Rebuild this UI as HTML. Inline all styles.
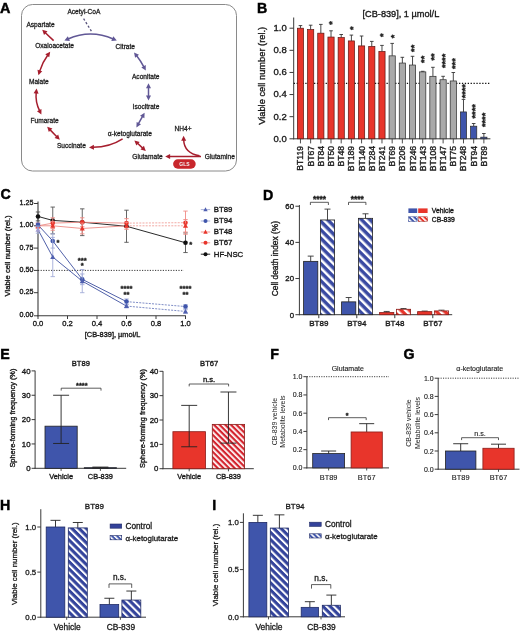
<!DOCTYPE html>
<html><head><meta charset="utf-8"><title>Figure</title>
<style>html,body{margin:0;padding:0;background:#fff;} svg{display:block;} text{font-family:'Liberation Sans', Arial, Helvetica, sans-serif;}</style>
</head><body>
<svg width="520" height="632" viewBox="0 0 520 632">
<rect width="520" height="632" fill="#fff"/>
<defs>
<pattern id="sb" patternUnits="userSpaceOnUse" width="6.0" height="6.0" patternTransform="rotate(-45)"><rect width="6.0" height="6.0" fill="#3a4aa2"/><rect width="2.5" height="6.0" fill="#fff"/></pattern>
<pattern id="sr" patternUnits="userSpaceOnUse" width="6.0" height="6.0" patternTransform="rotate(-45)"><rect width="6.0" height="6.0" fill="#e8352b"/><rect width="2.5" height="6.0" fill="#fff"/></pattern>
<pattern id="sbh" patternUnits="userSpaceOnUse" width="5.1" height="5.1" patternTransform="rotate(-45)"><rect width="5.1" height="5.1" fill="#34449c"/><rect width="2.0" height="5.1" fill="#fff"/></pattern>
<pattern id="sre" patternUnits="userSpaceOnUse" width="4.0" height="4.0" patternTransform="rotate(-45)"><rect width="4.0" height="4.0" fill="#d4242e"/><rect width="1.75" height="4.0" fill="#fff"/></pattern>
<pattern id="sbs" patternUnits="userSpaceOnUse" width="3.6" height="3.6" patternTransform="rotate(-45)"><rect width="3.6" height="3.6" fill="#3f55ab"/><rect width="1.6" height="3.6" fill="#fff"/></pattern>
<pattern id="srs" patternUnits="userSpaceOnUse" width="3.6" height="3.6" patternTransform="rotate(-45)"><rect width="3.6" height="3.6" fill="#e8352b"/><rect width="1.6" height="3.6" fill="#fff"/></pattern>
</defs>
<text x="0.10" y="12.60" font-size="14.4" text-anchor="start" font-weight="bold" fill="#000" stroke="#000" stroke-width="0.45">A</text>
<rect x="21.5" y="4.5" width="215" height="166.5" rx="11" ry="11" fill="#fff" stroke="#8a8a8a" stroke-width="1"/>
<text x="83.90" y="14.38" font-size="6.6" text-anchor="middle" font-weight="normal" fill="#1c1c1c" stroke="#1c1c1c" stroke-width="0.28">Acetyl-CoA</text>
<text x="40.50" y="26.98" font-size="6.6" text-anchor="middle" font-weight="normal" fill="#1c1c1c" stroke="#1c1c1c" stroke-width="0.28">Aspartate</text>
<text x="54.60" y="47.98" font-size="6.6" text-anchor="middle" font-weight="normal" fill="#1c1c1c" stroke="#1c1c1c" stroke-width="0.28">Oxaloacetate</text>
<text x="125.30" y="48.98" font-size="6.6" text-anchor="middle" font-weight="normal" fill="#1c1c1c" stroke="#1c1c1c" stroke-width="0.28">Citrate</text>
<text x="145.70" y="79.28" font-size="6.6" text-anchor="middle" font-weight="normal" fill="#1c1c1c" stroke="#1c1c1c" stroke-width="0.28">Aconitate</text>
<text x="146.00" y="109.38" font-size="6.6" text-anchor="middle" font-weight="normal" fill="#1c1c1c" stroke="#1c1c1c" stroke-width="0.28">Isocitrate</text>
<text x="129.80" y="135.88" font-size="6.6" text-anchor="middle" font-weight="normal" fill="#1c1c1c" stroke="#1c1c1c" stroke-width="0.28">α-ketoglutarate</text>
<text x="38.80" y="83.88" font-size="6.6" text-anchor="middle" font-weight="normal" fill="#1c1c1c" stroke="#1c1c1c" stroke-width="0.28">Malate</text>
<text x="44.60" y="123.48" font-size="6.6" text-anchor="middle" font-weight="normal" fill="#1c1c1c" stroke="#1c1c1c" stroke-width="0.28">Fumarate</text>
<text x="71.40" y="147.78" font-size="6.6" text-anchor="middle" font-weight="normal" fill="#1c1c1c" stroke="#1c1c1c" stroke-width="0.28">Succinate</text>
<text x="147.50" y="158.68" font-size="6.6" text-anchor="middle" font-weight="normal" fill="#1c1c1c" stroke="#1c1c1c" stroke-width="0.28">Glutamate</text>
<text x="219.80" y="158.88" font-size="6.6" text-anchor="middle" font-weight="normal" fill="#1c1c1c" stroke="#1c1c1c" stroke-width="0.28">Glutamine</text>
<text x="183.10" y="131.38" font-size="6.6" text-anchor="middle" font-weight="normal" fill="#1c1c1c" stroke="#1c1c1c" stroke-width="0.28">NH4+</text>
<line x1="83.6" y1="18.6" x2="92.4" y2="32.8" stroke="#55507a" stroke-width="1.3" stroke-dasharray="2.2,2.0"/>
<polygon points="116.80,40.60 111.31,40.94 113.30,36.35" fill="#615896"/>
<polygon points="64.40,40.60 67.90,36.35 69.89,40.94" fill="#615896"/>
<path d="M67.99,39.04 Q90.60,29.20 113.21,39.04" fill="none" stroke="#615896" stroke-width="1.5"/>
<polygon points="145.80,70.60 141.32,67.41 145.76,65.10" fill="#615896"/>
<polygon points="134.00,52.40 139.02,54.65 135.12,57.78" fill="#615896"/>
<path d="M136.46,55.45 Q140.60,60.60 143.99,67.12" fill="none" stroke="#615896" stroke-width="1.5"/>
<polygon points="148.50,100.40 146.00,95.50 151.00,95.50" fill="#615896"/>
<polygon points="148.50,83.30 151.00,88.20 146.00,88.20" fill="#615896"/>
<line x1="148.50" y1="87.22" x2="148.50" y2="96.48" stroke="#615896" stroke-width="1.5"/>
<polygon points="136.40,127.40 136.62,121.90 140.98,124.35" fill="#615896"/>
<polygon points="144.60,112.80 144.38,118.30 140.02,115.85" fill="#615896"/>
<line x1="142.68" y1="116.22" x2="138.32" y2="123.98" stroke="#615896" stroke-width="1.5"/>
<polygon points="42.20,29.80 47.48,31.36 44.04,34.98" fill="#a61e2e"/>
<line x1="53.60" y1="40.60" x2="45.05" y2="32.50" stroke="#a61e2e" stroke-width="1.5"/>
<polygon points="38.40,75.20 37.47,69.78 42.24,71.26" fill="#a61e2e"/>
<polygon points="50.20,51.80 49.24,57.22 45.25,54.20" fill="#a61e2e"/>
<path d="M47.84,54.93 Q42.50,62.00 39.56,71.46" fill="none" stroke="#a61e2e" stroke-width="1.5"/>
<polygon points="41.40,114.40 36.97,111.14 41.44,108.90" fill="#a61e2e"/>
<polygon points="36.60,88.60 38.58,93.73 33.60,93.21" fill="#a61e2e"/>
<path d="M36.19,92.50 Q35.20,102.00 39.65,110.89" fill="none" stroke="#a61e2e" stroke-width="1.5"/>
<polygon points="59.80,139.80 54.59,138.02 58.18,134.54" fill="#a61e2e"/>
<polygon points="47.20,126.80 52.41,128.58 48.82,132.06" fill="#a61e2e"/>
<line x1="49.93" y1="129.61" x2="57.07" y2="136.99" stroke="#a61e2e" stroke-width="1.5"/>
<polygon points="89.00,147.40 93.85,144.81 93.95,149.81" fill="#a61e2e"/>
<path d="M122.60,138.80 Q110.00,147.00 92.92,147.33" fill="none" stroke="#a61e2e" stroke-width="1.5"/>
<polygon points="145.80,151.00 140.51,149.49 143.91,145.83" fill="#a61e2e"/>
<polygon points="134.40,140.40 139.69,141.91 136.29,145.57" fill="#a61e2e"/>
<line x1="137.27" y1="143.07" x2="142.93" y2="148.33" stroke="#a61e2e" stroke-width="1.5"/>
<polygon points="165.20,156.50 170.10,154.00 170.10,159.00" fill="#a61e2e"/>
<line x1="201.00" y1="156.50" x2="169.12" y2="156.50" stroke="#a61e2e" stroke-width="1.5"/>
<polygon points="183.60,135.80 186.21,140.64 181.21,140.76" fill="#a61e2e"/>
<path d="M199.60,155.80 Q184.00,153.00 183.69,139.72" fill="none" stroke="#a61e2e" stroke-width="1.5"/>
<rect x="173.1" y="159.3" width="22.6" height="9.4" rx="4.7" fill="#c8262c"/>
<text x="184.40" y="166.00" font-size="5.0" text-anchor="middle" font-weight="bold" fill="#f4f4f4">GLS</text>
<text x="257.00" y="12.70" font-size="14.2" text-anchor="start" font-weight="bold" fill="#000" stroke="#000" stroke-width="0.45">B</text>
<text x="400.90" y="16.91" font-size="9.2" text-anchor="middle" font-weight="normal" fill="#1a1a1a" stroke="#1a1a1a" stroke-width="0.35">[CB-839], 1 µmol/L</text>
<line x1="293.70" y1="17.50" x2="293.70" y2="139.30" stroke="#3a3a3a" stroke-width="1"/>
<line x1="293.20" y1="138.80" x2="490.40" y2="138.80" stroke="#3a3a3a" stroke-width="1"/>
<line x1="289.50" y1="138.80" x2="293.70" y2="138.80" stroke="#3a3a3a" stroke-width="1"/>
<text x="286.70" y="141.70" font-size="9.5" text-anchor="end" font-weight="normal" fill="#1a1a1a" stroke="#1a1a1a" stroke-width="0.35">0.0</text>
<line x1="289.50" y1="116.68" x2="293.70" y2="116.68" stroke="#3a3a3a" stroke-width="1"/>
<text x="286.70" y="119.58" font-size="9.5" text-anchor="end" font-weight="normal" fill="#1a1a1a" stroke="#1a1a1a" stroke-width="0.35">0.2</text>
<line x1="289.50" y1="94.56" x2="293.70" y2="94.56" stroke="#3a3a3a" stroke-width="1"/>
<text x="286.70" y="97.46" font-size="9.5" text-anchor="end" font-weight="normal" fill="#1a1a1a" stroke="#1a1a1a" stroke-width="0.35">0.4</text>
<line x1="289.50" y1="72.44" x2="293.70" y2="72.44" stroke="#3a3a3a" stroke-width="1"/>
<text x="286.70" y="75.34" font-size="9.5" text-anchor="end" font-weight="normal" fill="#1a1a1a" stroke="#1a1a1a" stroke-width="0.35">0.6</text>
<line x1="289.50" y1="50.32" x2="293.70" y2="50.32" stroke="#3a3a3a" stroke-width="1"/>
<text x="286.70" y="53.22" font-size="9.5" text-anchor="end" font-weight="normal" fill="#1a1a1a" stroke="#1a1a1a" stroke-width="0.35">0.8</text>
<line x1="289.50" y1="28.20" x2="293.70" y2="28.20" stroke="#3a3a3a" stroke-width="1"/>
<text x="286.70" y="31.10" font-size="9.5" text-anchor="end" font-weight="normal" fill="#1a1a1a" stroke="#1a1a1a" stroke-width="0.35">1.0</text>
<text x="264.60" y="75.80" font-size="9.3" text-anchor="middle" font-weight="normal" fill="#1a1a1a" stroke="#1a1a1a" stroke-width="0.35" transform="rotate(-90 264.60 75.80)">Viable cell number (rel.)</text>
<line x1="293.7" y1="83.4" x2="489.6" y2="83.4" stroke="#111" stroke-width="1.1" stroke-dasharray="1.3,1.6"/>
<line x1="300.45" y1="25.60" x2="300.45" y2="28.20" stroke="#333" stroke-width="0.9"/>
<line x1="298.65" y1="25.60" x2="302.25" y2="25.60" stroke="#333" stroke-width="0.9"/>
<rect x="297.35" y="28.20" width="6.20" height="110.60" fill="#e8352b" stroke="#5a1510" stroke-width="0.7"/>
<line x1="300.45" y1="138.80" x2="300.45" y2="143.40" stroke="#3a3a3a" stroke-width="0.9"/>
<text x="303.45" y="146.00" font-size="8.6" text-anchor="end" font-weight="normal" fill="#1a1a1a" stroke="#1a1a1a" stroke-width="0.35" transform="rotate(-90 303.45 146.00)">BT119</text>
<line x1="310.64" y1="25.20" x2="310.64" y2="29.64" stroke="#333" stroke-width="0.9"/>
<line x1="308.84" y1="25.20" x2="312.44" y2="25.20" stroke="#333" stroke-width="0.9"/>
<rect x="307.54" y="29.64" width="6.20" height="109.16" fill="#e8352b" stroke="#5a1510" stroke-width="0.7"/>
<line x1="310.64" y1="138.80" x2="310.64" y2="143.40" stroke="#3a3a3a" stroke-width="0.9"/>
<text x="313.64" y="146.00" font-size="8.6" text-anchor="end" font-weight="normal" fill="#1a1a1a" stroke="#1a1a1a" stroke-width="0.35" transform="rotate(-90 313.64 146.00)">BT67</text>
<line x1="320.83" y1="24.40" x2="320.83" y2="33.18" stroke="#333" stroke-width="0.9"/>
<line x1="319.03" y1="24.40" x2="322.63" y2="24.40" stroke="#333" stroke-width="0.9"/>
<rect x="317.73" y="33.18" width="6.20" height="105.62" fill="#e8352b" stroke="#5a1510" stroke-width="0.7"/>
<line x1="320.83" y1="138.80" x2="320.83" y2="143.40" stroke="#3a3a3a" stroke-width="0.9"/>
<text x="323.83" y="146.00" font-size="8.6" text-anchor="end" font-weight="normal" fill="#1a1a1a" stroke="#1a1a1a" stroke-width="0.35" transform="rotate(-90 323.83 146.00)">BT84</text>
<line x1="331.02" y1="30.80" x2="331.02" y2="37.05" stroke="#333" stroke-width="0.9"/>
<line x1="329.22" y1="30.80" x2="332.82" y2="30.80" stroke="#333" stroke-width="0.9"/>
<rect x="327.92" y="37.05" width="6.20" height="101.75" fill="#e8352b" stroke="#5a1510" stroke-width="0.7"/>
<line x1="331.02" y1="138.80" x2="331.02" y2="143.40" stroke="#3a3a3a" stroke-width="0.9"/>
<text x="334.02" y="146.00" font-size="8.6" text-anchor="end" font-weight="normal" fill="#1a1a1a" stroke="#1a1a1a" stroke-width="0.35" transform="rotate(-90 334.02 146.00)">BT50</text>
<text x="335.44" y="21.15" font-size="9.2" text-anchor="end" font-weight="bold" fill="#1a1a1a" stroke="#1a1a1a" stroke-width="0.35" transform="rotate(-90 335.44 21.15)">*</text>
<line x1="341.21" y1="34.50" x2="341.21" y2="37.60" stroke="#333" stroke-width="0.9"/>
<line x1="339.41" y1="34.50" x2="343.01" y2="34.50" stroke="#333" stroke-width="0.9"/>
<rect x="338.11" y="37.60" width="6.20" height="101.20" fill="#e8352b" stroke="#5a1510" stroke-width="0.7"/>
<line x1="341.21" y1="138.80" x2="341.21" y2="143.40" stroke="#3a3a3a" stroke-width="0.9"/>
<text x="344.21" y="146.00" font-size="8.6" text-anchor="end" font-weight="normal" fill="#1a1a1a" stroke="#1a1a1a" stroke-width="0.35" transform="rotate(-90 344.21 146.00)">BT48</text>
<line x1="351.40" y1="35.10" x2="351.40" y2="40.92" stroke="#333" stroke-width="0.9"/>
<line x1="349.60" y1="35.10" x2="353.20" y2="35.10" stroke="#333" stroke-width="0.9"/>
<rect x="348.30" y="40.92" width="6.20" height="97.88" fill="#e8352b" stroke="#5a1510" stroke-width="0.7"/>
<line x1="351.40" y1="138.80" x2="351.40" y2="143.40" stroke="#3a3a3a" stroke-width="0.9"/>
<text x="354.40" y="146.00" font-size="8.6" text-anchor="end" font-weight="normal" fill="#1a1a1a" stroke="#1a1a1a" stroke-width="0.35" transform="rotate(-90 354.40 146.00)">BT189</text>
<text x="355.82" y="26.35" font-size="9.2" text-anchor="end" font-weight="bold" fill="#1a1a1a" stroke="#1a1a1a" stroke-width="0.35" transform="rotate(-90 355.82 26.35)">*</text>
<line x1="361.59" y1="36.00" x2="361.59" y2="45.90" stroke="#333" stroke-width="0.9"/>
<line x1="359.79" y1="36.00" x2="363.39" y2="36.00" stroke="#333" stroke-width="0.9"/>
<rect x="358.49" y="45.90" width="6.20" height="92.90" fill="#e8352b" stroke="#5a1510" stroke-width="0.7"/>
<line x1="361.59" y1="138.80" x2="361.59" y2="143.40" stroke="#3a3a3a" stroke-width="0.9"/>
<text x="364.59" y="146.00" font-size="8.6" text-anchor="end" font-weight="normal" fill="#1a1a1a" stroke="#1a1a1a" stroke-width="0.35" transform="rotate(-90 364.59 146.00)">BT140</text>
<line x1="371.78" y1="41.40" x2="371.78" y2="46.45" stroke="#333" stroke-width="0.9"/>
<line x1="369.98" y1="41.40" x2="373.58" y2="41.40" stroke="#333" stroke-width="0.9"/>
<rect x="368.68" y="46.45" width="6.20" height="92.35" fill="#e8352b" stroke="#5a1510" stroke-width="0.7"/>
<line x1="371.78" y1="138.80" x2="371.78" y2="143.40" stroke="#3a3a3a" stroke-width="0.9"/>
<text x="374.78" y="146.00" font-size="8.6" text-anchor="end" font-weight="normal" fill="#1a1a1a" stroke="#1a1a1a" stroke-width="0.35" transform="rotate(-90 374.78 146.00)">BT284</text>
<line x1="381.97" y1="45.40" x2="381.97" y2="51.43" stroke="#333" stroke-width="0.9"/>
<line x1="380.17" y1="45.40" x2="383.77" y2="45.40" stroke="#333" stroke-width="0.9"/>
<rect x="378.87" y="51.43" width="6.20" height="87.37" fill="#e8352b" stroke="#5a1510" stroke-width="0.7"/>
<line x1="381.97" y1="138.80" x2="381.97" y2="143.40" stroke="#3a3a3a" stroke-width="0.9"/>
<text x="384.97" y="146.00" font-size="8.6" text-anchor="end" font-weight="normal" fill="#1a1a1a" stroke="#1a1a1a" stroke-width="0.35" transform="rotate(-90 384.97 146.00)">BT241</text>
<text x="386.39" y="33.35" font-size="9.2" text-anchor="end" font-weight="bold" fill="#1a1a1a" stroke="#1a1a1a" stroke-width="0.35" transform="rotate(-90 386.39 33.35)">*</text>
<line x1="392.16" y1="43.40" x2="392.16" y2="55.85" stroke="#333" stroke-width="0.9"/>
<line x1="390.36" y1="43.40" x2="393.96" y2="43.40" stroke="#333" stroke-width="0.9"/>
<rect x="389.06" y="55.85" width="6.20" height="82.95" fill="#a9a9a9" stroke="#2a2a2a" stroke-width="0.7"/>
<line x1="392.16" y1="138.80" x2="392.16" y2="143.40" stroke="#3a3a3a" stroke-width="0.9"/>
<text x="395.16" y="146.00" font-size="8.6" text-anchor="end" font-weight="normal" fill="#1a1a1a" stroke="#1a1a1a" stroke-width="0.35" transform="rotate(-90 395.16 146.00)">BT69</text>
<text x="396.58" y="34.75" font-size="9.2" text-anchor="end" font-weight="bold" fill="#1a1a1a" stroke="#1a1a1a" stroke-width="0.35" transform="rotate(-90 396.58 34.75)">*</text>
<line x1="402.35" y1="57.30" x2="402.35" y2="63.04" stroke="#333" stroke-width="0.9"/>
<line x1="400.55" y1="57.30" x2="404.15" y2="57.30" stroke="#333" stroke-width="0.9"/>
<rect x="399.25" y="63.04" width="6.20" height="75.76" fill="#a9a9a9" stroke="#2a2a2a" stroke-width="0.7"/>
<line x1="402.35" y1="138.80" x2="402.35" y2="143.40" stroke="#3a3a3a" stroke-width="0.9"/>
<text x="405.35" y="146.00" font-size="8.6" text-anchor="end" font-weight="normal" fill="#1a1a1a" stroke="#1a1a1a" stroke-width="0.35" transform="rotate(-90 405.35 146.00)">BT206</text>
<line x1="412.54" y1="56.30" x2="412.54" y2="65.03" stroke="#333" stroke-width="0.9"/>
<line x1="410.74" y1="56.30" x2="414.34" y2="56.30" stroke="#333" stroke-width="0.9"/>
<rect x="409.44" y="65.03" width="6.20" height="73.77" fill="#a9a9a9" stroke="#2a2a2a" stroke-width="0.7"/>
<line x1="412.54" y1="138.80" x2="412.54" y2="143.40" stroke="#3a3a3a" stroke-width="0.9"/>
<text x="415.54" y="146.00" font-size="8.6" text-anchor="end" font-weight="normal" fill="#1a1a1a" stroke="#1a1a1a" stroke-width="0.35" transform="rotate(-90 415.54 146.00)">BT246</text>
<text x="416.96" y="44.75" font-size="9.2" text-anchor="end" font-weight="bold" fill="#1a1a1a" stroke="#1a1a1a" stroke-width="0.35" transform="rotate(-90 416.96 44.75)">**</text>
<line x1="422.73" y1="71.30" x2="422.73" y2="71.89" stroke="#333" stroke-width="0.9"/>
<line x1="420.93" y1="71.30" x2="424.53" y2="71.30" stroke="#333" stroke-width="0.9"/>
<rect x="419.63" y="71.89" width="6.20" height="66.91" fill="#a9a9a9" stroke="#2a2a2a" stroke-width="0.7"/>
<line x1="422.73" y1="138.80" x2="422.73" y2="143.40" stroke="#3a3a3a" stroke-width="0.9"/>
<text x="425.73" y="146.00" font-size="8.6" text-anchor="end" font-weight="normal" fill="#1a1a1a" stroke="#1a1a1a" stroke-width="0.35" transform="rotate(-90 425.73 146.00)">BT143</text>
<text x="427.15" y="55.75" font-size="9.2" text-anchor="end" font-weight="bold" fill="#1a1a1a" stroke="#1a1a1a" stroke-width="0.35" transform="rotate(-90 427.15 55.75)">**</text>
<line x1="432.92" y1="67.30" x2="432.92" y2="76.31" stroke="#333" stroke-width="0.9"/>
<line x1="431.12" y1="67.30" x2="434.72" y2="67.30" stroke="#333" stroke-width="0.9"/>
<rect x="429.82" y="76.31" width="6.20" height="62.49" fill="#a9a9a9" stroke="#2a2a2a" stroke-width="0.7"/>
<line x1="432.92" y1="138.80" x2="432.92" y2="143.40" stroke="#3a3a3a" stroke-width="0.9"/>
<text x="435.92" y="146.00" font-size="8.6" text-anchor="end" font-weight="normal" fill="#1a1a1a" stroke="#1a1a1a" stroke-width="0.35" transform="rotate(-90 435.92 146.00)">BT108</text>
<text x="437.34" y="53.45" font-size="9.2" text-anchor="end" font-weight="bold" fill="#1a1a1a" stroke="#1a1a1a" stroke-width="0.35" transform="rotate(-90 437.34 53.45)">**</text>
<line x1="443.11" y1="76.30" x2="443.11" y2="79.74" stroke="#333" stroke-width="0.9"/>
<line x1="441.31" y1="76.30" x2="444.91" y2="76.30" stroke="#333" stroke-width="0.9"/>
<rect x="440.01" y="79.74" width="6.20" height="59.06" fill="#a9a9a9" stroke="#2a2a2a" stroke-width="0.7"/>
<line x1="443.11" y1="138.80" x2="443.11" y2="143.40" stroke="#3a3a3a" stroke-width="0.9"/>
<text x="446.11" y="146.00" font-size="8.6" text-anchor="end" font-weight="normal" fill="#1a1a1a" stroke="#1a1a1a" stroke-width="0.35" transform="rotate(-90 446.11 146.00)">BT147</text>
<text x="447.53" y="53.75" font-size="9.2" text-anchor="end" font-weight="bold" fill="#1a1a1a" stroke="#1a1a1a" stroke-width="0.35" transform="rotate(-90 447.53 53.75)">****</text>
<line x1="453.30" y1="72.50" x2="453.30" y2="80.96" stroke="#333" stroke-width="0.9"/>
<line x1="451.50" y1="72.50" x2="455.10" y2="72.50" stroke="#333" stroke-width="0.9"/>
<rect x="450.20" y="80.96" width="6.20" height="57.84" fill="#a9a9a9" stroke="#2a2a2a" stroke-width="0.7"/>
<line x1="453.30" y1="138.80" x2="453.30" y2="143.40" stroke="#3a3a3a" stroke-width="0.9"/>
<text x="456.30" y="146.00" font-size="8.6" text-anchor="end" font-weight="normal" fill="#1a1a1a" stroke="#1a1a1a" stroke-width="0.35" transform="rotate(-90 456.30 146.00)">BT75</text>
<text x="457.72" y="58.25" font-size="9.2" text-anchor="end" font-weight="bold" fill="#1a1a1a" stroke="#1a1a1a" stroke-width="0.35" transform="rotate(-90 457.72 58.25)">***</text>
<line x1="463.49" y1="99.40" x2="463.49" y2="111.92" stroke="#333" stroke-width="0.9"/>
<line x1="461.69" y1="99.40" x2="465.29" y2="99.40" stroke="#333" stroke-width="0.9"/>
<rect x="460.39" y="111.92" width="6.20" height="26.88" fill="#3f55ab" stroke="#2a2a2a" stroke-width="0.7"/>
<line x1="463.49" y1="138.80" x2="463.49" y2="143.40" stroke="#3a3a3a" stroke-width="0.9"/>
<text x="466.49" y="146.00" font-size="8.6" text-anchor="end" font-weight="normal" fill="#1a1a1a" stroke="#1a1a1a" stroke-width="0.35" transform="rotate(-90 466.49 146.00)">BT248</text>
<text x="467.91" y="84.05" font-size="9.2" text-anchor="end" font-weight="bold" fill="#1a1a1a" stroke="#1a1a1a" stroke-width="0.35" transform="rotate(-90 467.91 84.05)">****</text>
<line x1="473.68" y1="123.50" x2="473.68" y2="126.19" stroke="#333" stroke-width="0.9"/>
<line x1="471.88" y1="123.50" x2="475.48" y2="123.50" stroke="#333" stroke-width="0.9"/>
<rect x="470.58" y="126.19" width="6.20" height="12.61" fill="#3f55ab" stroke="#2a2a2a" stroke-width="0.7"/>
<line x1="473.68" y1="138.80" x2="473.68" y2="143.40" stroke="#3a3a3a" stroke-width="0.9"/>
<text x="476.68" y="146.00" font-size="8.6" text-anchor="end" font-weight="normal" fill="#1a1a1a" stroke="#1a1a1a" stroke-width="0.35" transform="rotate(-90 476.68 146.00)">BT94</text>
<text x="478.10" y="104.15" font-size="9.2" text-anchor="end" font-weight="bold" fill="#1a1a1a" stroke="#1a1a1a" stroke-width="0.35" transform="rotate(-90 478.10 104.15)">****</text>
<line x1="483.87" y1="133.50" x2="483.87" y2="137.14" stroke="#333" stroke-width="0.9"/>
<line x1="482.07" y1="133.50" x2="485.67" y2="133.50" stroke="#333" stroke-width="0.9"/>
<rect x="480.77" y="137.14" width="6.20" height="1.66" fill="#3f55ab" stroke="#2a2a2a" stroke-width="0.7"/>
<line x1="483.87" y1="138.80" x2="483.87" y2="143.40" stroke="#3a3a3a" stroke-width="0.9"/>
<text x="486.87" y="146.00" font-size="8.6" text-anchor="end" font-weight="normal" fill="#1a1a1a" stroke="#1a1a1a" stroke-width="0.35" transform="rotate(-90 486.87 146.00)">BT89</text>
<text x="488.29" y="112.75" font-size="9.2" text-anchor="end" font-weight="bold" fill="#1a1a1a" stroke="#1a1a1a" stroke-width="0.35" transform="rotate(-90 488.29 112.75)">****</text>
<text x="0.50" y="199.00" font-size="14.2" text-anchor="start" font-weight="bold" fill="#000" stroke="#000" stroke-width="0.45">C</text>
<line x1="38.00" y1="201.50" x2="38.00" y2="316.30" stroke="#3a3a3a" stroke-width="1.1"/>
<line x1="37.50" y1="315.80" x2="185.80" y2="315.80" stroke="#3a3a3a" stroke-width="1.1"/>
<line x1="34.00" y1="315.80" x2="38.00" y2="315.80" stroke="#3a3a3a" stroke-width="1"/>
<text x="33.40" y="317.40" font-size="7.1" text-anchor="end" font-weight="normal" fill="#1a1a1a" stroke="#1a1a1a" stroke-width="0.35">0.00</text>
<line x1="34.00" y1="292.70" x2="38.00" y2="292.70" stroke="#3a3a3a" stroke-width="1"/>
<text x="33.40" y="294.30" font-size="7.1" text-anchor="end" font-weight="normal" fill="#1a1a1a" stroke="#1a1a1a" stroke-width="0.35">0.25</text>
<line x1="34.00" y1="270.40" x2="38.00" y2="270.40" stroke="#3a3a3a" stroke-width="1"/>
<text x="33.40" y="272.00" font-size="7.1" text-anchor="end" font-weight="normal" fill="#1a1a1a" stroke="#1a1a1a" stroke-width="0.35">0.50</text>
<line x1="34.00" y1="248.10" x2="38.00" y2="248.10" stroke="#3a3a3a" stroke-width="1"/>
<text x="33.40" y="249.70" font-size="7.1" text-anchor="end" font-weight="normal" fill="#1a1a1a" stroke="#1a1a1a" stroke-width="0.35">0.75</text>
<line x1="34.00" y1="225.80" x2="38.00" y2="225.80" stroke="#3a3a3a" stroke-width="1"/>
<text x="33.40" y="227.40" font-size="7.1" text-anchor="end" font-weight="normal" fill="#1a1a1a" stroke="#1a1a1a" stroke-width="0.35">1.00</text>
<line x1="34.00" y1="203.50" x2="38.00" y2="203.50" stroke="#3a3a3a" stroke-width="1"/>
<text x="33.40" y="205.10" font-size="7.1" text-anchor="end" font-weight="normal" fill="#1a1a1a" stroke="#1a1a1a" stroke-width="0.35">1.25</text>
<line x1="38.00" y1="315.80" x2="38.00" y2="319.00" stroke="#3a3a3a" stroke-width="1"/>
<text x="38.00" y="325.74" font-size="7.6" text-anchor="middle" font-weight="normal" fill="#1a1a1a" stroke="#1a1a1a" stroke-width="0.35">0.0</text>
<line x1="67.50" y1="315.80" x2="67.50" y2="319.00" stroke="#3a3a3a" stroke-width="1"/>
<text x="67.50" y="325.74" font-size="7.6" text-anchor="middle" font-weight="normal" fill="#1a1a1a" stroke="#1a1a1a" stroke-width="0.35">0.2</text>
<line x1="97.00" y1="315.80" x2="97.00" y2="319.00" stroke="#3a3a3a" stroke-width="1"/>
<text x="97.00" y="325.74" font-size="7.6" text-anchor="middle" font-weight="normal" fill="#1a1a1a" stroke="#1a1a1a" stroke-width="0.35">0.4</text>
<line x1="126.50" y1="315.80" x2="126.50" y2="319.00" stroke="#3a3a3a" stroke-width="1"/>
<text x="126.50" y="325.74" font-size="7.6" text-anchor="middle" font-weight="normal" fill="#1a1a1a" stroke="#1a1a1a" stroke-width="0.35">0.6</text>
<line x1="156.00" y1="315.80" x2="156.00" y2="319.00" stroke="#3a3a3a" stroke-width="1"/>
<text x="156.00" y="325.74" font-size="7.6" text-anchor="middle" font-weight="normal" fill="#1a1a1a" stroke="#1a1a1a" stroke-width="0.35">0.8</text>
<line x1="185.50" y1="315.80" x2="185.50" y2="319.00" stroke="#3a3a3a" stroke-width="1"/>
<text x="185.50" y="325.74" font-size="7.6" text-anchor="middle" font-weight="normal" fill="#1a1a1a" stroke="#1a1a1a" stroke-width="0.35">1.0</text>
<text x="112.60" y="337.26" font-size="7.4" text-anchor="middle" font-weight="normal" fill="#1a1a1a" stroke="#1a1a1a" stroke-width="0.35">[CB-839], µmol/L</text>
<text x="10.40" y="255.90" font-size="7.7" text-anchor="middle" font-weight="normal" fill="#1a1a1a" stroke="#1a1a1a" stroke-width="0.35" transform="rotate(-90 10.40 255.90)">Viable cell number (rel.)</text>
<line x1="38.0" y1="270.4" x2="183.7" y2="270.4" stroke="#222" stroke-width="0.9" stroke-dasharray="1.2,1.4"/>
<polyline points="38.00,216.43 52.75,220.45 82.25,222.23 126.50,226.25 185.50,242.75" fill="none" stroke="#111" stroke-width="0.9"/>
<polyline points="38.00,225.80 52.75,223.12 82.25,222.23 126.50,223.12" fill="none" stroke="#ec8a84" stroke-width="0.9"/>
<polyline points="126.50,223.12 185.50,222.68" fill="none" stroke="#f0a09a" stroke-width="0.9" stroke-dasharray="2,1.2"/>
<polyline points="38.00,225.80 52.75,225.80 82.25,228.48 126.50,225.80" fill="none" stroke="#ec8a84" stroke-width="0.9"/>
<polyline points="126.50,225.80 185.50,225.80" fill="none" stroke="#f0a09a" stroke-width="0.9" stroke-dasharray="2,1.2"/>
<polyline points="38.00,224.91 52.75,240.96 82.25,279.32 126.50,301.62" fill="none" stroke="#3d4f9f" stroke-width="0.9"/>
<polyline points="126.50,301.62 185.50,306.53" fill="none" stroke="#7080c0" stroke-width="0.9" stroke-dasharray="2,1.2"/>
<polyline points="38.00,229.64 52.75,257.02 82.25,281.10 126.50,306.08" fill="none" stroke="#3d4f9f" stroke-width="0.9"/>
<polyline points="126.50,306.08 185.50,311.43" fill="none" stroke="#7080c0" stroke-width="0.9" stroke-dasharray="2,1.2"/>
<line x1="38.00" y1="211.97" x2="38.00" y2="220.89" stroke="#555" stroke-width="0.9"/>
<line x1="35.80" y1="211.97" x2="40.20" y2="211.97" stroke="#555" stroke-width="0.9"/>
<line x1="35.80" y1="220.89" x2="40.20" y2="220.89" stroke="#555" stroke-width="0.9"/>
<line x1="52.75" y1="207.07" x2="52.75" y2="233.83" stroke="#555" stroke-width="0.9"/>
<line x1="50.55" y1="207.07" x2="54.95" y2="207.07" stroke="#555" stroke-width="0.9"/>
<line x1="50.55" y1="233.83" x2="54.95" y2="233.83" stroke="#555" stroke-width="0.9"/>
<line x1="82.25" y1="208.85" x2="82.25" y2="235.61" stroke="#555" stroke-width="0.9"/>
<line x1="80.05" y1="208.85" x2="84.45" y2="208.85" stroke="#555" stroke-width="0.9"/>
<line x1="80.05" y1="235.61" x2="84.45" y2="235.61" stroke="#555" stroke-width="0.9"/>
<line x1="126.50" y1="210.19" x2="126.50" y2="242.30" stroke="#555" stroke-width="0.9"/>
<line x1="124.30" y1="210.19" x2="128.70" y2="210.19" stroke="#555" stroke-width="0.9"/>
<line x1="124.30" y1="242.30" x2="128.70" y2="242.30" stroke="#555" stroke-width="0.9"/>
<line x1="185.50" y1="232.94" x2="185.50" y2="252.56" stroke="#555" stroke-width="0.9"/>
<line x1="183.30" y1="232.94" x2="187.70" y2="232.94" stroke="#555" stroke-width="0.9"/>
<line x1="183.30" y1="252.56" x2="187.70" y2="252.56" stroke="#555" stroke-width="0.9"/>
<circle cx="38.00" cy="216.43" r="2.3" fill="#111"/>
<circle cx="52.75" cy="220.45" r="2.3" fill="#111"/>
<circle cx="82.25" cy="222.23" r="2.3" fill="#111"/>
<circle cx="126.50" cy="226.25" r="2.3" fill="#111"/>
<circle cx="185.50" cy="242.75" r="2.3" fill="#111"/>
<line x1="38.00" y1="223.12" x2="38.00" y2="228.48" stroke="#f08a84" stroke-width="0.9"/>
<line x1="35.80" y1="223.12" x2="40.20" y2="223.12" stroke="#f08a84" stroke-width="0.9"/>
<line x1="35.80" y1="228.48" x2="40.20" y2="228.48" stroke="#f08a84" stroke-width="0.9"/>
<line x1="52.75" y1="217.77" x2="52.75" y2="228.48" stroke="#f08a84" stroke-width="0.9"/>
<line x1="50.55" y1="217.77" x2="54.95" y2="217.77" stroke="#f08a84" stroke-width="0.9"/>
<line x1="50.55" y1="228.48" x2="54.95" y2="228.48" stroke="#f08a84" stroke-width="0.9"/>
<line x1="82.25" y1="217.77" x2="82.25" y2="226.69" stroke="#f08a84" stroke-width="0.9"/>
<line x1="80.05" y1="217.77" x2="84.45" y2="217.77" stroke="#f08a84" stroke-width="0.9"/>
<line x1="80.05" y1="226.69" x2="84.45" y2="226.69" stroke="#f08a84" stroke-width="0.9"/>
<line x1="126.50" y1="218.66" x2="126.50" y2="227.58" stroke="#f08a84" stroke-width="0.9"/>
<line x1="124.30" y1="218.66" x2="128.70" y2="218.66" stroke="#f08a84" stroke-width="0.9"/>
<line x1="124.30" y1="227.58" x2="128.70" y2="227.58" stroke="#f08a84" stroke-width="0.9"/>
<line x1="185.50" y1="211.08" x2="185.50" y2="234.27" stroke="#f08a84" stroke-width="0.9"/>
<line x1="183.30" y1="211.08" x2="187.70" y2="211.08" stroke="#f08a84" stroke-width="0.9"/>
<line x1="183.30" y1="234.27" x2="187.70" y2="234.27" stroke="#f08a84" stroke-width="0.9"/>
<circle cx="38.00" cy="225.80" r="2.3" fill="#e8352b"/>
<circle cx="52.75" cy="223.12" r="2.3" fill="#e8352b"/>
<circle cx="82.25" cy="222.23" r="2.3" fill="#e8352b"/>
<circle cx="126.50" cy="223.12" r="2.3" fill="#e8352b"/>
<circle cx="185.50" cy="222.68" r="2.3" fill="#e8352b"/>
<line x1="38.00" y1="223.12" x2="38.00" y2="228.48" stroke="#f08a84" stroke-width="0.9"/>
<line x1="35.80" y1="223.12" x2="40.20" y2="223.12" stroke="#f08a84" stroke-width="0.9"/>
<line x1="35.80" y1="228.48" x2="40.20" y2="228.48" stroke="#f08a84" stroke-width="0.9"/>
<line x1="52.75" y1="221.34" x2="52.75" y2="230.26" stroke="#f08a84" stroke-width="0.9"/>
<line x1="50.55" y1="221.34" x2="54.95" y2="221.34" stroke="#f08a84" stroke-width="0.9"/>
<line x1="50.55" y1="230.26" x2="54.95" y2="230.26" stroke="#f08a84" stroke-width="0.9"/>
<line x1="82.25" y1="223.12" x2="82.25" y2="233.83" stroke="#f08a84" stroke-width="0.9"/>
<line x1="80.05" y1="223.12" x2="84.45" y2="223.12" stroke="#f08a84" stroke-width="0.9"/>
<line x1="80.05" y1="233.83" x2="84.45" y2="233.83" stroke="#f08a84" stroke-width="0.9"/>
<line x1="126.50" y1="222.23" x2="126.50" y2="229.37" stroke="#f08a84" stroke-width="0.9"/>
<line x1="124.30" y1="222.23" x2="128.70" y2="222.23" stroke="#f08a84" stroke-width="0.9"/>
<line x1="124.30" y1="229.37" x2="128.70" y2="229.37" stroke="#f08a84" stroke-width="0.9"/>
<line x1="185.50" y1="219.56" x2="185.50" y2="232.04" stroke="#f08a84" stroke-width="0.9"/>
<line x1="183.30" y1="219.56" x2="187.70" y2="219.56" stroke="#f08a84" stroke-width="0.9"/>
<line x1="183.30" y1="232.04" x2="187.70" y2="232.04" stroke="#f08a84" stroke-width="0.9"/>
<polygon points="38.00,223.02 40.53,227.82 35.47,227.82" fill="#e8352b"/>
<polygon points="52.75,223.02 55.28,227.82 50.22,227.82" fill="#e8352b"/>
<polygon points="82.25,225.69 84.78,230.50 79.72,230.50" fill="#e8352b"/>
<polygon points="126.50,223.02 129.03,227.82 123.97,227.82" fill="#e8352b"/>
<polygon points="185.50,223.02 188.03,227.82 182.97,227.82" fill="#e8352b"/>
<line x1="38.00" y1="223.12" x2="38.00" y2="226.69" stroke="#a3acd8" stroke-width="0.9"/>
<line x1="35.80" y1="223.12" x2="40.20" y2="223.12" stroke="#a3acd8" stroke-width="0.9"/>
<line x1="35.80" y1="226.69" x2="40.20" y2="226.69" stroke="#a3acd8" stroke-width="0.9"/>
<line x1="52.75" y1="233.83" x2="52.75" y2="248.10" stroke="#a3acd8" stroke-width="0.9"/>
<line x1="50.55" y1="233.83" x2="54.95" y2="233.83" stroke="#a3acd8" stroke-width="0.9"/>
<line x1="50.55" y1="248.10" x2="54.95" y2="248.10" stroke="#a3acd8" stroke-width="0.9"/>
<line x1="82.25" y1="273.97" x2="82.25" y2="284.67" stroke="#a3acd8" stroke-width="0.9"/>
<line x1="80.05" y1="273.97" x2="84.45" y2="273.97" stroke="#a3acd8" stroke-width="0.9"/>
<line x1="80.05" y1="284.67" x2="84.45" y2="284.67" stroke="#a3acd8" stroke-width="0.9"/>
<line x1="126.50" y1="298.94" x2="126.50" y2="304.30" stroke="#a3acd8" stroke-width="0.9"/>
<line x1="124.30" y1="298.94" x2="128.70" y2="298.94" stroke="#a3acd8" stroke-width="0.9"/>
<line x1="124.30" y1="304.30" x2="128.70" y2="304.30" stroke="#a3acd8" stroke-width="0.9"/>
<line x1="185.50" y1="304.74" x2="185.50" y2="308.31" stroke="#a3acd8" stroke-width="0.9"/>
<line x1="183.30" y1="304.74" x2="187.70" y2="304.74" stroke="#a3acd8" stroke-width="0.9"/>
<line x1="183.30" y1="308.31" x2="187.70" y2="308.31" stroke="#a3acd8" stroke-width="0.9"/>
<circle cx="38.00" cy="224.91" r="2.3" fill="#3f55ab"/>
<circle cx="52.75" cy="240.96" r="2.3" fill="#3f55ab"/>
<circle cx="82.25" cy="279.32" r="2.3" fill="#3f55ab"/>
<circle cx="126.50" cy="301.62" r="2.3" fill="#3f55ab"/>
<circle cx="185.50" cy="306.53" r="2.3" fill="#3f55ab"/>
<line x1="38.00" y1="226.07" x2="38.00" y2="233.20" stroke="#a3acd8" stroke-width="0.9"/>
<line x1="35.80" y1="226.07" x2="40.20" y2="226.07" stroke="#a3acd8" stroke-width="0.9"/>
<line x1="35.80" y1="233.20" x2="40.20" y2="233.20" stroke="#a3acd8" stroke-width="0.9"/>
<line x1="52.75" y1="237.40" x2="52.75" y2="276.64" stroke="#a3acd8" stroke-width="0.9"/>
<line x1="50.55" y1="237.40" x2="54.95" y2="237.40" stroke="#a3acd8" stroke-width="0.9"/>
<line x1="50.55" y1="276.64" x2="54.95" y2="276.64" stroke="#a3acd8" stroke-width="0.9"/>
<line x1="82.25" y1="269.51" x2="82.25" y2="292.70" stroke="#a3acd8" stroke-width="0.9"/>
<line x1="80.05" y1="269.51" x2="84.45" y2="269.51" stroke="#a3acd8" stroke-width="0.9"/>
<line x1="80.05" y1="292.70" x2="84.45" y2="292.70" stroke="#a3acd8" stroke-width="0.9"/>
<line x1="126.50" y1="304.30" x2="126.50" y2="307.86" stroke="#a3acd8" stroke-width="0.9"/>
<line x1="124.30" y1="304.30" x2="128.70" y2="304.30" stroke="#a3acd8" stroke-width="0.9"/>
<line x1="124.30" y1="307.86" x2="128.70" y2="307.86" stroke="#a3acd8" stroke-width="0.9"/>
<line x1="185.50" y1="309.65" x2="185.50" y2="313.22" stroke="#a3acd8" stroke-width="0.9"/>
<line x1="183.30" y1="309.65" x2="187.70" y2="309.65" stroke="#a3acd8" stroke-width="0.9"/>
<line x1="183.30" y1="313.22" x2="187.70" y2="313.22" stroke="#a3acd8" stroke-width="0.9"/>
<polygon points="38.00,226.85 40.53,231.66 35.47,231.66" fill="#a29dd2"/>
<polygon points="52.75,254.24 55.28,259.04 50.22,259.04" fill="#5060b0"/>
<polygon points="82.25,278.32 84.78,283.13 79.72,283.13" fill="#5060b0"/>
<polygon points="126.50,303.30 129.03,308.10 123.97,308.10" fill="#5060b0"/>
<polygon points="185.50,308.65 188.03,313.46 182.97,313.46" fill="#5060b0"/>
<text x="57.95" y="245.16" font-size="7.6" text-anchor="middle" font-weight="bold" fill="#1a1a1a" stroke="#1a1a1a" stroke-width="0.35">*</text>
<text x="190.70" y="247.06" font-size="7.6" text-anchor="middle" font-weight="bold" fill="#1a1a1a" stroke="#1a1a1a" stroke-width="0.35">*</text>
<text x="82.25" y="262.56" font-size="7.6" text-anchor="middle" font-weight="bold" fill="#1a1a1a" stroke="#1a1a1a" stroke-width="0.35">***</text>
<text x="82.25" y="267.66" font-size="7.6" text-anchor="middle" font-weight="bold" fill="#1a1a1a" stroke="#1a1a1a" stroke-width="0.35">*</text>
<text x="126.50" y="291.36" font-size="7.6" text-anchor="middle" font-weight="bold" fill="#1a1a1a" stroke="#1a1a1a" stroke-width="0.35">****</text>
<text x="126.50" y="296.86" font-size="7.6" text-anchor="middle" font-weight="bold" fill="#1a1a1a" stroke="#1a1a1a" stroke-width="0.35">**</text>
<text x="185.50" y="291.36" font-size="7.6" text-anchor="middle" font-weight="bold" fill="#1a1a1a" stroke="#1a1a1a" stroke-width="0.35">****</text>
<text x="185.50" y="296.86" font-size="7.6" text-anchor="middle" font-weight="bold" fill="#1a1a1a" stroke="#1a1a1a" stroke-width="0.35">**</text>
<line x1="200.80" y1="209.60" x2="210.20" y2="209.60" stroke="#a3acd8" stroke-width="0.9"/>
<polygon points="205.50,207.18 207.70,211.36 203.30,211.36" fill="#5060b0"/>
<text x="228.00" y="212.34" font-size="7.6" text-anchor="middle" font-weight="normal" fill="#1a1a1a" stroke="#1a1a1a" stroke-width="0.35"></text>
<text x="213.80" y="211.90" font-size="7.8" text-anchor="start" font-weight="normal" fill="#1a1a1a" stroke="#1a1a1a" stroke-width="0.35">BT89</text>
<line x1="200.80" y1="221.00" x2="210.20" y2="221.00" stroke="#a3acd8" stroke-width="0.9"/>
<circle cx="205.50" cy="221.00" r="2.0" fill="#3f55ab"/>
<text x="228.00" y="223.74" font-size="7.6" text-anchor="middle" font-weight="normal" fill="#1a1a1a" stroke="#1a1a1a" stroke-width="0.35"></text>
<text x="213.80" y="223.30" font-size="7.8" text-anchor="start" font-weight="normal" fill="#1a1a1a" stroke="#1a1a1a" stroke-width="0.35">BT94</text>
<line x1="200.80" y1="232.00" x2="210.20" y2="232.00" stroke="#f08a84" stroke-width="0.9"/>
<polygon points="205.50,229.58 207.70,233.76 203.30,233.76" fill="#e8352b"/>
<text x="228.00" y="234.74" font-size="7.6" text-anchor="middle" font-weight="normal" fill="#1a1a1a" stroke="#1a1a1a" stroke-width="0.35"></text>
<text x="213.80" y="234.30" font-size="7.8" text-anchor="start" font-weight="normal" fill="#1a1a1a" stroke="#1a1a1a" stroke-width="0.35">BT48</text>
<line x1="200.80" y1="242.80" x2="210.20" y2="242.80" stroke="#f08a84" stroke-width="0.9"/>
<circle cx="205.50" cy="242.80" r="2.0" fill="#e8352b"/>
<text x="228.00" y="245.54" font-size="7.6" text-anchor="middle" font-weight="normal" fill="#1a1a1a" stroke="#1a1a1a" stroke-width="0.35"></text>
<text x="213.80" y="245.10" font-size="7.8" text-anchor="start" font-weight="normal" fill="#1a1a1a" stroke="#1a1a1a" stroke-width="0.35">BT67</text>
<line x1="200.80" y1="254.20" x2="210.20" y2="254.20" stroke="#111" stroke-width="0.9"/>
<circle cx="205.50" cy="254.20" r="2.0" fill="#111"/>
<text x="228.00" y="256.94" font-size="7.6" text-anchor="middle" font-weight="normal" fill="#1a1a1a" stroke="#1a1a1a" stroke-width="0.35"></text>
<text x="213.80" y="256.50" font-size="7.8" text-anchor="start" font-weight="normal" fill="#1a1a1a" stroke="#1a1a1a" stroke-width="0.35">HF-NSC</text>
<text x="263.00" y="199.80" font-size="14.2" text-anchor="start" font-weight="bold" fill="#000" stroke="#000" stroke-width="0.45">D</text>
<line x1="299.40" y1="205.00" x2="299.40" y2="315.20" stroke="#3a3a3a" stroke-width="1"/>
<line x1="298.90" y1="314.70" x2="452.20" y2="314.70" stroke="#3a3a3a" stroke-width="1"/>
<line x1="295.40" y1="314.70" x2="299.40" y2="314.70" stroke="#3a3a3a" stroke-width="1"/>
<text x="294.00" y="317.50" font-size="7.8" text-anchor="end" font-weight="normal" fill="#1a1a1a" stroke="#1a1a1a" stroke-width="0.35">0</text>
<line x1="295.40" y1="278.54" x2="299.40" y2="278.54" stroke="#3a3a3a" stroke-width="1"/>
<text x="294.00" y="281.34" font-size="7.8" text-anchor="end" font-weight="normal" fill="#1a1a1a" stroke="#1a1a1a" stroke-width="0.35">20</text>
<line x1="295.40" y1="242.38" x2="299.40" y2="242.38" stroke="#3a3a3a" stroke-width="1"/>
<text x="294.00" y="245.18" font-size="7.8" text-anchor="end" font-weight="normal" fill="#1a1a1a" stroke="#1a1a1a" stroke-width="0.35">40</text>
<line x1="295.40" y1="206.22" x2="299.40" y2="206.22" stroke="#3a3a3a" stroke-width="1"/>
<text x="294.00" y="209.02" font-size="7.8" text-anchor="end" font-weight="normal" fill="#1a1a1a" stroke="#1a1a1a" stroke-width="0.35">60</text>
<text x="278.00" y="258.60" font-size="8.35" text-anchor="middle" font-weight="normal" fill="#1a1a1a" stroke="#1a1a1a" stroke-width="0.35" transform="rotate(-90 278.00 258.60)">Cell death index (%)</text>
<line x1="310.70" y1="256.12" x2="310.70" y2="261.36" stroke="#333" stroke-width="0.9"/>
<line x1="307.70" y1="256.12" x2="313.70" y2="256.12" stroke="#333" stroke-width="0.9"/>
<rect x="303.60" y="261.36" width="14.20" height="53.34" fill="#3f55ab" stroke="#222" stroke-width="0.8"/>
<line x1="327.50" y1="209.11" x2="327.50" y2="219.96" stroke="#333" stroke-width="0.9"/>
<line x1="324.50" y1="209.11" x2="330.50" y2="209.11" stroke="#333" stroke-width="0.9"/>
<rect x="320.40" y="219.96" width="14.20" height="94.74" fill="url(#sb)" stroke="#222" stroke-width="0.8"/>
<line x1="318.80" y1="314.70" x2="318.80" y2="318.20" stroke="#3a3a3a" stroke-width="1"/>
<text x="318.80" y="325.78" font-size="8.0" text-anchor="middle" font-weight="normal" fill="#1a1a1a" stroke="#1a1a1a" stroke-width="0.35">BT89</text>
<line x1="348.70" y1="297.52" x2="348.70" y2="301.86" stroke="#333" stroke-width="0.9"/>
<line x1="345.70" y1="297.52" x2="351.70" y2="297.52" stroke="#333" stroke-width="0.9"/>
<rect x="341.60" y="301.86" width="14.20" height="12.84" fill="#3f55ab" stroke="#222" stroke-width="0.8"/>
<line x1="365.50" y1="213.81" x2="365.50" y2="218.33" stroke="#333" stroke-width="0.9"/>
<line x1="362.50" y1="213.81" x2="368.50" y2="213.81" stroke="#333" stroke-width="0.9"/>
<rect x="358.40" y="218.33" width="14.20" height="96.37" fill="url(#sb)" stroke="#222" stroke-width="0.8"/>
<line x1="356.80" y1="314.70" x2="356.80" y2="318.20" stroke="#3a3a3a" stroke-width="1"/>
<text x="356.80" y="325.78" font-size="8.0" text-anchor="middle" font-weight="normal" fill="#1a1a1a" stroke="#1a1a1a" stroke-width="0.35">BT94</text>
<line x1="386.70" y1="311.45" x2="386.70" y2="312.53" stroke="#333" stroke-width="0.9"/>
<line x1="383.70" y1="311.45" x2="389.70" y2="311.45" stroke="#333" stroke-width="0.9"/>
<rect x="379.60" y="312.53" width="14.20" height="2.17" fill="#e8352b" stroke="#8a1c18" stroke-width="0.8"/>
<line x1="403.50" y1="308.55" x2="403.50" y2="309.28" stroke="#333" stroke-width="0.9"/>
<line x1="400.50" y1="308.55" x2="406.50" y2="308.55" stroke="#333" stroke-width="0.9"/>
<rect x="396.40" y="309.28" width="14.20" height="5.42" fill="url(#sr)" stroke="#8a1c18" stroke-width="0.8"/>
<line x1="394.80" y1="314.70" x2="394.80" y2="318.20" stroke="#3a3a3a" stroke-width="1"/>
<text x="394.80" y="325.78" font-size="8.0" text-anchor="middle" font-weight="normal" fill="#1a1a1a" stroke="#1a1a1a" stroke-width="0.35">BT48</text>
<line x1="424.70" y1="311.08" x2="424.70" y2="311.63" stroke="#333" stroke-width="0.9"/>
<line x1="421.70" y1="311.08" x2="427.70" y2="311.08" stroke="#333" stroke-width="0.9"/>
<rect x="417.60" y="311.63" width="14.20" height="3.07" fill="#e8352b" stroke="#8a1c18" stroke-width="0.8"/>
<line x1="441.50" y1="310.18" x2="441.50" y2="310.90" stroke="#333" stroke-width="0.9"/>
<line x1="438.50" y1="310.18" x2="444.50" y2="310.18" stroke="#333" stroke-width="0.9"/>
<rect x="434.40" y="310.90" width="14.20" height="3.80" fill="url(#sr)" stroke="#8a1c18" stroke-width="0.8"/>
<line x1="432.80" y1="314.70" x2="432.80" y2="318.20" stroke="#3a3a3a" stroke-width="1"/>
<text x="432.80" y="325.78" font-size="8.0" text-anchor="middle" font-weight="normal" fill="#1a1a1a" stroke="#1a1a1a" stroke-width="0.35">BT67</text>
<polyline points="310.4,205 310.4,202.3 328.4,202.3 328.4,205" fill="none" stroke="#333" stroke-width="0.8"/>
<text x="319.40" y="202.40" font-size="8.4" text-anchor="middle" font-weight="bold" fill="#1a1a1a" stroke="#1a1a1a" stroke-width="0.35">****</text>
<polyline points="348.5,205 348.5,202.3 365.9,202.3 365.9,205" fill="none" stroke="#333" stroke-width="0.8"/>
<text x="357.20" y="202.40" font-size="8.4" text-anchor="middle" font-weight="bold" fill="#1a1a1a" stroke="#1a1a1a" stroke-width="0.35">****</text>
<rect x="408.40" y="208.40" width="8.80" height="4.60" fill="#3f55ab"/>
<rect x="418.20" y="208.40" width="9.40" height="4.60" fill="#e8352b"/>
<rect x="408.40" y="216.80" width="8.80" height="4.80" fill="url(#sbs)" stroke="#243580" stroke-width="0.4"/>
<rect x="418.20" y="216.80" width="9.40" height="4.80" fill="url(#srs)" stroke="#8a1c18" stroke-width="0.4"/>
<text x="431.80" y="213.10" font-size="6.8" text-anchor="start" font-weight="normal" fill="#1a1a1a" stroke="#1a1a1a" stroke-width="0.35">Vehicle</text>
<text x="431.80" y="221.70" font-size="6.8" text-anchor="start" font-weight="normal" fill="#1a1a1a" stroke="#1a1a1a" stroke-width="0.35">CB-839</text>
<text x="0.30" y="358.90" font-size="14.2" text-anchor="start" font-weight="bold" fill="#000" stroke="#000" stroke-width="0.45">E</text>
<line x1="35.10" y1="370.70" x2="35.10" y2="468.80" stroke="#3a3a3a" stroke-width="1"/>
<line x1="34.60" y1="468.30" x2="126.20" y2="468.30" stroke="#3a3a3a" stroke-width="1"/>
<line x1="31.60" y1="468.30" x2="35.10" y2="468.30" stroke="#3a3a3a" stroke-width="1"/>
<text x="30.50" y="471.00" font-size="7.8" text-anchor="end" font-weight="normal" fill="#1a1a1a" stroke="#1a1a1a" stroke-width="0.35">0</text>
<line x1="31.60" y1="443.95" x2="35.10" y2="443.95" stroke="#3a3a3a" stroke-width="1"/>
<text x="30.50" y="446.65" font-size="7.8" text-anchor="end" font-weight="normal" fill="#1a1a1a" stroke="#1a1a1a" stroke-width="0.35">10</text>
<line x1="31.60" y1="419.60" x2="35.10" y2="419.60" stroke="#3a3a3a" stroke-width="1"/>
<text x="30.50" y="422.30" font-size="7.8" text-anchor="end" font-weight="normal" fill="#1a1a1a" stroke="#1a1a1a" stroke-width="0.35">20</text>
<line x1="31.60" y1="395.25" x2="35.10" y2="395.25" stroke="#3a3a3a" stroke-width="1"/>
<text x="30.50" y="397.95" font-size="7.8" text-anchor="end" font-weight="normal" fill="#1a1a1a" stroke="#1a1a1a" stroke-width="0.35">30</text>
<line x1="31.60" y1="370.90" x2="35.10" y2="370.90" stroke="#3a3a3a" stroke-width="1"/>
<text x="30.50" y="373.60" font-size="7.8" text-anchor="end" font-weight="normal" fill="#1a1a1a" stroke="#1a1a1a" stroke-width="0.35">40</text>
<text x="15.40" y="418.10" font-size="7.4" text-anchor="middle" font-weight="normal" fill="#1a1a1a" stroke="#1a1a1a" stroke-width="0.35" transform="rotate(-90 15.40 418.10)">Sphere-forming frequency (%)</text>
<text x="80.80" y="366.04" font-size="7.6" text-anchor="middle" font-weight="normal" fill="#1a1a1a" stroke="#1a1a1a" stroke-width="0.35">BT89</text>
<rect x="45.00" y="426.17" width="32.20" height="42.13" fill="#3f55ab" stroke="#222" stroke-width="0.8"/>
<line x1="61.10" y1="395.25" x2="61.10" y2="443.46" stroke="#222" stroke-width="0.9"/>
<line x1="53.10" y1="395.25" x2="69.10" y2="395.25" stroke="#222" stroke-width="0.9"/>
<line x1="53.10" y1="443.46" x2="69.10" y2="443.46" stroke="#222" stroke-width="0.9"/>
<text x="61.10" y="479.26" font-size="7.4" text-anchor="middle" font-weight="normal" fill="#1a1a1a" stroke="#1a1a1a" stroke-width="0.35">Vehicle</text>
<line x1="61.10" y1="468.30" x2="61.10" y2="470.90" stroke="#3a3a3a" stroke-width="0.9"/>
<rect x="84.30" y="467.69" width="32.20" height="0.61" fill="#3f55ab" stroke="#222" stroke-width="0.8"/>
<line x1="100.40" y1="467.08" x2="100.40" y2="468.06" stroke="#222" stroke-width="0.9"/>
<line x1="92.40" y1="467.08" x2="108.40" y2="467.08" stroke="#222" stroke-width="0.9"/>
<line x1="92.40" y1="468.06" x2="108.40" y2="468.06" stroke="#222" stroke-width="0.9"/>
<text x="100.40" y="479.26" font-size="7.4" text-anchor="middle" font-weight="normal" fill="#1a1a1a" stroke="#1a1a1a" stroke-width="0.35">CB-839</text>
<line x1="100.40" y1="468.30" x2="100.40" y2="470.90" stroke="#3a3a3a" stroke-width="0.9"/>
<polyline points="61.2,390.59999999999997 61.2,388.2 101.0,388.2 101.0,390.59999999999997" fill="none" stroke="#333" stroke-width="0.8"/>
<text x="81.80" y="388.44" font-size="7.4" text-anchor="middle" font-weight="bold" fill="#1a1a1a" stroke="#1a1a1a" stroke-width="0.35">****</text>
<line x1="163.00" y1="371.10" x2="163.00" y2="469.20" stroke="#3a3a3a" stroke-width="1"/>
<line x1="162.50" y1="468.70" x2="253.80" y2="468.70" stroke="#3a3a3a" stroke-width="1"/>
<line x1="159.50" y1="468.70" x2="163.00" y2="468.70" stroke="#3a3a3a" stroke-width="1"/>
<text x="158.40" y="471.40" font-size="7.8" text-anchor="end" font-weight="normal" fill="#1a1a1a" stroke="#1a1a1a" stroke-width="0.35">0</text>
<line x1="159.50" y1="444.35" x2="163.00" y2="444.35" stroke="#3a3a3a" stroke-width="1"/>
<text x="158.40" y="447.05" font-size="7.8" text-anchor="end" font-weight="normal" fill="#1a1a1a" stroke="#1a1a1a" stroke-width="0.35">10</text>
<line x1="159.50" y1="420.00" x2="163.00" y2="420.00" stroke="#3a3a3a" stroke-width="1"/>
<text x="158.40" y="422.70" font-size="7.8" text-anchor="end" font-weight="normal" fill="#1a1a1a" stroke="#1a1a1a" stroke-width="0.35">20</text>
<line x1="159.50" y1="395.65" x2="163.00" y2="395.65" stroke="#3a3a3a" stroke-width="1"/>
<text x="158.40" y="398.35" font-size="7.8" text-anchor="end" font-weight="normal" fill="#1a1a1a" stroke="#1a1a1a" stroke-width="0.35">30</text>
<line x1="159.50" y1="371.30" x2="163.00" y2="371.30" stroke="#3a3a3a" stroke-width="1"/>
<text x="158.40" y="374.00" font-size="7.8" text-anchor="end" font-weight="normal" fill="#1a1a1a" stroke="#1a1a1a" stroke-width="0.35">40</text>
<text x="144.60" y="418.50" font-size="7.4" text-anchor="middle" font-weight="normal" fill="#1a1a1a" stroke="#1a1a1a" stroke-width="0.35" transform="rotate(-90 144.60 418.50)">Sphere-forming frequency (%)</text>
<text x="209.20" y="366.04" font-size="7.6" text-anchor="middle" font-weight="normal" fill="#1a1a1a" stroke="#1a1a1a" stroke-width="0.35">BT67</text>
<rect x="172.90" y="431.69" width="32.60" height="37.01" fill="#e8352b" stroke="#8a1c18" stroke-width="0.8"/>
<line x1="189.20" y1="405.39" x2="189.20" y2="446.78" stroke="#222" stroke-width="0.9"/>
<line x1="181.20" y1="405.39" x2="197.20" y2="405.39" stroke="#222" stroke-width="0.9"/>
<line x1="181.20" y1="446.78" x2="197.20" y2="446.78" stroke="#222" stroke-width="0.9"/>
<text x="189.20" y="479.26" font-size="7.4" text-anchor="middle" font-weight="normal" fill="#1a1a1a" stroke="#1a1a1a" stroke-width="0.35">Vehicle</text>
<line x1="189.20" y1="468.70" x2="189.20" y2="471.30" stroke="#3a3a3a" stroke-width="0.9"/>
<rect x="212.30" y="424.38" width="32.30" height="44.32" fill="url(#sre)" stroke="#8a1c18" stroke-width="0.8"/>
<line x1="228.45" y1="392.00" x2="228.45" y2="443.13" stroke="#222" stroke-width="0.9"/>
<line x1="220.45" y1="392.00" x2="236.45" y2="392.00" stroke="#222" stroke-width="0.9"/>
<line x1="220.45" y1="443.13" x2="236.45" y2="443.13" stroke="#222" stroke-width="0.9"/>
<text x="228.45" y="479.26" font-size="7.4" text-anchor="middle" font-weight="normal" fill="#1a1a1a" stroke="#1a1a1a" stroke-width="0.35">CB-839</text>
<line x1="228.45" y1="468.70" x2="228.45" y2="471.30" stroke="#3a3a3a" stroke-width="0.9"/>
<polyline points="189.2,386.4 189.2,384.0 228.6,384.0 228.6,386.4" fill="none" stroke="#333" stroke-width="0.8"/>
<text x="209.00" y="381.64" font-size="7.6" text-anchor="middle" font-weight="normal" fill="#1a1a1a" stroke="#1a1a1a" stroke-width="0.35">n.s.</text>
<text x="270.30" y="359.10" font-size="14.2" text-anchor="start" font-weight="bold" fill="#000" stroke="#000" stroke-width="0.45">F</text>
<line x1="306.90" y1="376.70" x2="306.90" y2="468.40" stroke="#3a3a3a" stroke-width="1"/>
<line x1="306.40" y1="467.90" x2="389.00" y2="467.90" stroke="#3a3a3a" stroke-width="1"/>
<line x1="306.9" y1="376.70" x2="389.0" y2="376.70" stroke="#222" stroke-width="0.9" stroke-dasharray="1.1,1.3"/>
<line x1="303.40" y1="467.90" x2="306.90" y2="467.90" stroke="#3a3a3a" stroke-width="1"/>
<text x="302.40" y="470.40" font-size="7.0" text-anchor="end" font-weight="normal" fill="#1a1a1a" stroke="#1a1a1a" stroke-width="0.12">0.0</text>
<line x1="303.40" y1="449.66" x2="306.90" y2="449.66" stroke="#3a3a3a" stroke-width="1"/>
<text x="302.40" y="452.16" font-size="7.0" text-anchor="end" font-weight="normal" fill="#1a1a1a" stroke="#1a1a1a" stroke-width="0.12">0.2</text>
<line x1="303.40" y1="431.42" x2="306.90" y2="431.42" stroke="#3a3a3a" stroke-width="1"/>
<text x="302.40" y="433.92" font-size="7.0" text-anchor="end" font-weight="normal" fill="#1a1a1a" stroke="#1a1a1a" stroke-width="0.12">0.4</text>
<line x1="303.40" y1="413.18" x2="306.90" y2="413.18" stroke="#3a3a3a" stroke-width="1"/>
<text x="302.40" y="415.68" font-size="7.0" text-anchor="end" font-weight="normal" fill="#1a1a1a" stroke="#1a1a1a" stroke-width="0.12">0.6</text>
<line x1="303.40" y1="394.94" x2="306.90" y2="394.94" stroke="#3a3a3a" stroke-width="1"/>
<text x="302.40" y="397.44" font-size="7.0" text-anchor="end" font-weight="normal" fill="#1a1a1a" stroke="#1a1a1a" stroke-width="0.12">0.8</text>
<line x1="303.40" y1="376.70" x2="306.90" y2="376.70" stroke="#3a3a3a" stroke-width="1"/>
<text x="302.40" y="379.20" font-size="7.0" text-anchor="end" font-weight="normal" fill="#1a1a1a" stroke="#1a1a1a" stroke-width="0.12">1.0</text>
<text font-size="7.0" fill="#1a1a1a" text-anchor="middle" transform="translate(276.60,421.60) rotate(-90)"><tspan x="0" y="0">CB-839 vehicle</tspan><tspan x="0" y="8.2">Metabolite levels</tspan></text>
<text x="347.80" y="370.92" font-size="7.0" text-anchor="middle" font-weight="normal" fill="#1a1a1a" stroke="#1a1a1a" stroke-width="0.12">Glutamate</text>
<line x1="328.65" y1="451.03" x2="328.65" y2="453.58" stroke="#222" stroke-width="0.9"/>
<line x1="321.15" y1="451.03" x2="336.15" y2="451.03" stroke="#222" stroke-width="0.9"/>
<rect x="312.70" y="453.58" width="31.90" height="14.32" fill="#3f55ab" stroke="#222" stroke-width="0.8"/>
<text x="328.65" y="480.26" font-size="7.4" text-anchor="middle" font-weight="normal" fill="#1a1a1a" stroke="#1a1a1a" stroke-width="0.12">BT89</text>
<line x1="328.65" y1="467.90" x2="328.65" y2="470.50" stroke="#3a3a3a" stroke-width="0.9"/>
<line x1="366.70" y1="423.67" x2="366.70" y2="431.97" stroke="#222" stroke-width="0.9"/>
<line x1="359.20" y1="423.67" x2="374.20" y2="423.67" stroke="#222" stroke-width="0.9"/>
<rect x="351.10" y="431.97" width="31.20" height="35.93" fill="#e8352b" stroke="#8a1c18" stroke-width="0.8"/>
<text x="366.70" y="480.26" font-size="7.4" text-anchor="middle" font-weight="normal" fill="#1a1a1a" stroke="#1a1a1a" stroke-width="0.12">BT67</text>
<line x1="366.70" y1="467.90" x2="366.70" y2="470.50" stroke="#3a3a3a" stroke-width="0.9"/>
<polyline points="328.5,420.09999999999997 328.5,417.7 366.2,417.7 366.2,420.09999999999997" fill="none" stroke="#333" stroke-width="0.8"/>
<text x="347.20" y="417.72" font-size="7.0" text-anchor="middle" font-weight="bold" fill="#1a1a1a" stroke="#1a1a1a" stroke-width="0.35">*</text>
<text x="403.50" y="359.10" font-size="14.2" text-anchor="start" font-weight="bold" fill="#000" stroke="#000" stroke-width="0.45">G</text>
<line x1="438.20" y1="378.20" x2="438.20" y2="469.70" stroke="#3a3a3a" stroke-width="1"/>
<line x1="437.70" y1="469.20" x2="519.50" y2="469.20" stroke="#3a3a3a" stroke-width="1"/>
<line x1="438.2" y1="378.20" x2="519.5" y2="378.20" stroke="#222" stroke-width="0.9" stroke-dasharray="1.1,1.3"/>
<line x1="434.70" y1="469.20" x2="438.20" y2="469.20" stroke="#3a3a3a" stroke-width="1"/>
<text x="433.70" y="471.70" font-size="7.0" text-anchor="end" font-weight="normal" fill="#1a1a1a" stroke="#1a1a1a" stroke-width="0.12">0.0</text>
<line x1="434.70" y1="451.00" x2="438.20" y2="451.00" stroke="#3a3a3a" stroke-width="1"/>
<text x="433.70" y="453.50" font-size="7.0" text-anchor="end" font-weight="normal" fill="#1a1a1a" stroke="#1a1a1a" stroke-width="0.12">0.2</text>
<line x1="434.70" y1="432.80" x2="438.20" y2="432.80" stroke="#3a3a3a" stroke-width="1"/>
<text x="433.70" y="435.30" font-size="7.0" text-anchor="end" font-weight="normal" fill="#1a1a1a" stroke="#1a1a1a" stroke-width="0.12">0.4</text>
<line x1="434.70" y1="414.60" x2="438.20" y2="414.60" stroke="#3a3a3a" stroke-width="1"/>
<text x="433.70" y="417.10" font-size="7.0" text-anchor="end" font-weight="normal" fill="#1a1a1a" stroke="#1a1a1a" stroke-width="0.12">0.6</text>
<line x1="434.70" y1="396.40" x2="438.20" y2="396.40" stroke="#3a3a3a" stroke-width="1"/>
<text x="433.70" y="398.90" font-size="7.0" text-anchor="end" font-weight="normal" fill="#1a1a1a" stroke="#1a1a1a" stroke-width="0.12">0.8</text>
<line x1="434.70" y1="378.20" x2="438.20" y2="378.20" stroke="#3a3a3a" stroke-width="1"/>
<text x="433.70" y="380.70" font-size="7.0" text-anchor="end" font-weight="normal" fill="#1a1a1a" stroke="#1a1a1a" stroke-width="0.12">1.0</text>
<text font-size="7.0" fill="#1a1a1a" text-anchor="middle" transform="translate(411.40,423.00) rotate(-90)"><tspan x="0" y="0">CB-839 vehicle</tspan><tspan x="0" y="8.2">Metabolite levels</tspan></text>
<text x="479.80" y="370.92" font-size="7.0" text-anchor="middle" font-weight="normal" fill="#1a1a1a" stroke="#1a1a1a" stroke-width="0.12">α-ketoglutarate</text>
<line x1="460.70" y1="443.72" x2="460.70" y2="451.00" stroke="#222" stroke-width="0.9"/>
<line x1="453.20" y1="443.72" x2="468.20" y2="443.72" stroke="#222" stroke-width="0.9"/>
<rect x="445.50" y="451.00" width="30.40" height="18.20" fill="#3f55ab" stroke="#222" stroke-width="0.8"/>
<text x="460.70" y="480.26" font-size="7.4" text-anchor="middle" font-weight="normal" fill="#1a1a1a" stroke="#1a1a1a" stroke-width="0.12">BT89</text>
<line x1="460.70" y1="469.20" x2="460.70" y2="471.80" stroke="#3a3a3a" stroke-width="0.9"/>
<line x1="498.50" y1="444.18" x2="498.50" y2="448.27" stroke="#222" stroke-width="0.9"/>
<line x1="491.00" y1="444.18" x2="506.00" y2="444.18" stroke="#222" stroke-width="0.9"/>
<rect x="482.90" y="448.27" width="31.20" height="20.93" fill="#e8352b" stroke="#8a1c18" stroke-width="0.8"/>
<text x="498.50" y="480.26" font-size="7.4" text-anchor="middle" font-weight="normal" fill="#1a1a1a" stroke="#1a1a1a" stroke-width="0.12">BT67</text>
<line x1="498.50" y1="469.20" x2="498.50" y2="471.80" stroke="#3a3a3a" stroke-width="0.9"/>
<polyline points="461.6,440.09999999999997 461.6,437.7 498.5,437.7 498.5,440.09999999999997" fill="none" stroke="#333" stroke-width="0.8"/>
<text x="480.00" y="435.79" font-size="7.2" text-anchor="middle" font-weight="normal" fill="#1a1a1a" stroke="#1a1a1a" stroke-width="0.12">n.s.</text>
<text x="0.10" y="509.60" font-size="14.2" text-anchor="start" font-weight="bold" fill="#000" stroke="#000" stroke-width="0.45">H</text>
<line x1="40.80" y1="509.20" x2="40.80" y2="617.70" stroke="#3a3a3a" stroke-width="1"/>
<line x1="40.30" y1="617.20" x2="146.00" y2="617.20" stroke="#3a3a3a" stroke-width="1"/>
<line x1="37.30" y1="617.20" x2="40.80" y2="617.20" stroke="#3a3a3a" stroke-width="1"/>
<text x="36.20" y="620.00" font-size="7.8" text-anchor="end" font-weight="normal" fill="#1a1a1a" stroke="#1a1a1a" stroke-width="0.3">0.0</text>
<line x1="37.30" y1="572.10" x2="40.80" y2="572.10" stroke="#3a3a3a" stroke-width="1"/>
<text x="36.20" y="574.90" font-size="7.8" text-anchor="end" font-weight="normal" fill="#1a1a1a" stroke="#1a1a1a" stroke-width="0.3">0.5</text>
<line x1="37.30" y1="527.00" x2="40.80" y2="527.00" stroke="#3a3a3a" stroke-width="1"/>
<text x="36.20" y="529.80" font-size="7.8" text-anchor="end" font-weight="normal" fill="#1a1a1a" stroke="#1a1a1a" stroke-width="0.3">1.0</text>
<text x="17.00" y="563.70" font-size="7.85" text-anchor="middle" font-weight="normal" fill="#1a1a1a" stroke="#1a1a1a" stroke-width="0.3" transform="rotate(-90 17.00 563.70)">Viable cell number (rel.)</text>
<text x="94.40" y="508.58" font-size="8.0" text-anchor="middle" font-weight="normal" fill="#1a1a1a" stroke="#1a1a1a" stroke-width="0.3">BT89</text>
<line x1="55.50" y1="520.33" x2="55.50" y2="527.00" stroke="#222" stroke-width="0.9"/>
<line x1="50.50" y1="520.33" x2="60.50" y2="520.33" stroke="#222" stroke-width="0.9"/>
<rect x="46.20" y="527.00" width="18.60" height="90.20" fill="#3f55ab" stroke="#1e2a66" stroke-width="0.8"/>
<line x1="77.80" y1="522.49" x2="77.80" y2="527.90" stroke="#222" stroke-width="0.9"/>
<line x1="72.80" y1="522.49" x2="82.80" y2="522.49" stroke="#222" stroke-width="0.9"/>
<rect x="68.30" y="527.90" width="19.00" height="89.30" fill="url(#sbh)" stroke="#1e2a66" stroke-width="0.8"/>
<line x1="109.35" y1="598.26" x2="109.35" y2="604.57" stroke="#222" stroke-width="0.9"/>
<line x1="104.35" y1="598.26" x2="114.35" y2="598.26" stroke="#222" stroke-width="0.9"/>
<rect x="100.00" y="604.57" width="18.70" height="12.63" fill="#3f55ab" stroke="#1e2a66" stroke-width="0.8"/>
<line x1="131.35" y1="591.04" x2="131.35" y2="600.06" stroke="#222" stroke-width="0.9"/>
<line x1="126.35" y1="591.04" x2="136.35" y2="591.04" stroke="#222" stroke-width="0.9"/>
<rect x="121.90" y="600.06" width="18.90" height="17.14" fill="url(#sbh)" stroke="#1e2a66" stroke-width="0.8"/>
<text x="67.20" y="629.62" font-size="8.4" text-anchor="middle" font-weight="normal" fill="#1a1a1a" stroke="#1a1a1a" stroke-width="0.3">Vehicle</text>
<line x1="66.70" y1="617.20" x2="66.70" y2="619.80" stroke="#3a3a3a" stroke-width="0.9"/>
<text x="120.90" y="629.62" font-size="8.4" text-anchor="middle" font-weight="normal" fill="#1a1a1a" stroke="#1a1a1a" stroke-width="0.3">CB-839</text>
<line x1="120.40" y1="617.20" x2="120.40" y2="619.80" stroke="#3a3a3a" stroke-width="0.9"/>
<polyline points="109.0,587.9 109.0,583.9 131.7,583.9 131.7,587.9" fill="none" stroke="#333" stroke-width="0.8"/>
<text x="119.60" y="580.39" font-size="8.3" text-anchor="middle" font-weight="normal" fill="#1a1a1a" stroke="#1a1a1a" stroke-width="0.3">n.s.</text>
<rect x="110.10" y="524.00" width="11.60" height="4.20" fill="#33429a" stroke="#1e2a66" stroke-width="0.6"/>
<rect x="110.10" y="535.60" width="11.60" height="4.20" fill="url(#sbs)" stroke="#1e2a66" stroke-width="0.6"/>
<text x="125.40" y="528.70" font-size="8.3" text-anchor="start" font-weight="normal" fill="#1a1a1a" stroke="#1a1a1a" stroke-width="0.3">Control</text>
<text x="125.40" y="540.50" font-size="7.9" text-anchor="start" font-weight="normal" fill="#1a1a1a" stroke="#1a1a1a" stroke-width="0.3">α-ketoglutarate</text>
<text x="212.20" y="509.60" font-size="14.2" text-anchor="start" font-weight="bold" fill="#000" stroke="#000" stroke-width="0.45">I</text>
<line x1="243.40" y1="513.30" x2="243.40" y2="617.30" stroke="#3a3a3a" stroke-width="1"/>
<line x1="242.90" y1="616.80" x2="345.00" y2="616.80" stroke="#3a3a3a" stroke-width="1"/>
<line x1="239.90" y1="616.80" x2="243.40" y2="616.80" stroke="#3a3a3a" stroke-width="1"/>
<text x="238.80" y="619.60" font-size="7.8" text-anchor="end" font-weight="normal" fill="#1a1a1a" stroke="#1a1a1a" stroke-width="0.3">0.0</text>
<line x1="239.90" y1="569.60" x2="243.40" y2="569.60" stroke="#3a3a3a" stroke-width="1"/>
<text x="238.80" y="572.40" font-size="7.8" text-anchor="end" font-weight="normal" fill="#1a1a1a" stroke="#1a1a1a" stroke-width="0.3">0.5</text>
<line x1="239.90" y1="522.40" x2="243.40" y2="522.40" stroke="#3a3a3a" stroke-width="1"/>
<text x="238.80" y="525.20" font-size="7.8" text-anchor="end" font-weight="normal" fill="#1a1a1a" stroke="#1a1a1a" stroke-width="0.3">1.0</text>
<text x="217.90" y="565.00" font-size="7.85" text-anchor="middle" font-weight="normal" fill="#1a1a1a" stroke="#1a1a1a" stroke-width="0.3" transform="rotate(-90 217.90 565.00)">Viable cell number (rel.)</text>
<text x="295.00" y="508.88" font-size="8.0" text-anchor="middle" font-weight="normal" fill="#1a1a1a" stroke="#1a1a1a" stroke-width="0.3">BT94</text>
<line x1="257.85" y1="515.32" x2="257.85" y2="522.40" stroke="#222" stroke-width="0.9"/>
<line x1="252.85" y1="515.32" x2="262.85" y2="515.32" stroke="#222" stroke-width="0.9"/>
<rect x="248.90" y="522.40" width="17.90" height="94.40" fill="#3f55ab" stroke="#1e2a66" stroke-width="0.8"/>
<line x1="279.40" y1="514.85" x2="279.40" y2="528.06" stroke="#222" stroke-width="0.9"/>
<line x1="274.40" y1="514.85" x2="284.40" y2="514.85" stroke="#222" stroke-width="0.9"/>
<rect x="270.30" y="528.06" width="18.20" height="88.74" fill="url(#sbh)" stroke="#1e2a66" stroke-width="0.8"/>
<line x1="309.85" y1="601.70" x2="309.85" y2="607.36" stroke="#222" stroke-width="0.9"/>
<line x1="304.85" y1="601.70" x2="314.85" y2="601.70" stroke="#222" stroke-width="0.9"/>
<rect x="301.20" y="607.36" width="17.30" height="9.44" fill="#3f55ab" stroke="#1e2a66" stroke-width="0.8"/>
<line x1="331.35" y1="595.09" x2="331.35" y2="605.28" stroke="#222" stroke-width="0.9"/>
<line x1="326.35" y1="595.09" x2="336.35" y2="595.09" stroke="#222" stroke-width="0.9"/>
<rect x="322.30" y="605.28" width="18.10" height="11.52" fill="url(#sbh)" stroke="#1e2a66" stroke-width="0.8"/>
<text x="269.00" y="629.62" font-size="8.4" text-anchor="middle" font-weight="normal" fill="#1a1a1a" stroke="#1a1a1a" stroke-width="0.3">Vehicle</text>
<line x1="268.50" y1="616.80" x2="268.50" y2="619.40" stroke="#3a3a3a" stroke-width="0.9"/>
<text x="321.50" y="629.62" font-size="8.4" text-anchor="middle" font-weight="normal" fill="#1a1a1a" stroke="#1a1a1a" stroke-width="0.3">CB-839</text>
<line x1="321.00" y1="616.80" x2="321.00" y2="619.40" stroke="#3a3a3a" stroke-width="0.9"/>
<polyline points="311.5,588.6 311.5,584.6 330.8,584.6 330.8,588.6" fill="none" stroke="#333" stroke-width="0.8"/>
<text x="321.00" y="581.09" font-size="8.3" text-anchor="middle" font-weight="normal" fill="#1a1a1a" stroke="#1a1a1a" stroke-width="0.3">n.s.</text>
<rect x="309.60" y="522.20" width="11.60" height="4.20" fill="#33429a" stroke="#1e2a66" stroke-width="0.6"/>
<rect x="309.60" y="533.80" width="11.60" height="4.20" fill="url(#sbs)" stroke="#1e2a66" stroke-width="0.6"/>
<text x="324.90" y="526.90" font-size="8.3" text-anchor="start" font-weight="normal" fill="#1a1a1a" stroke="#1a1a1a" stroke-width="0.3">Control</text>
<text x="324.90" y="538.70" font-size="7.9" text-anchor="start" font-weight="normal" fill="#1a1a1a" stroke="#1a1a1a" stroke-width="0.3">α-ketoglutarate</text>
</svg>
</body></html>
